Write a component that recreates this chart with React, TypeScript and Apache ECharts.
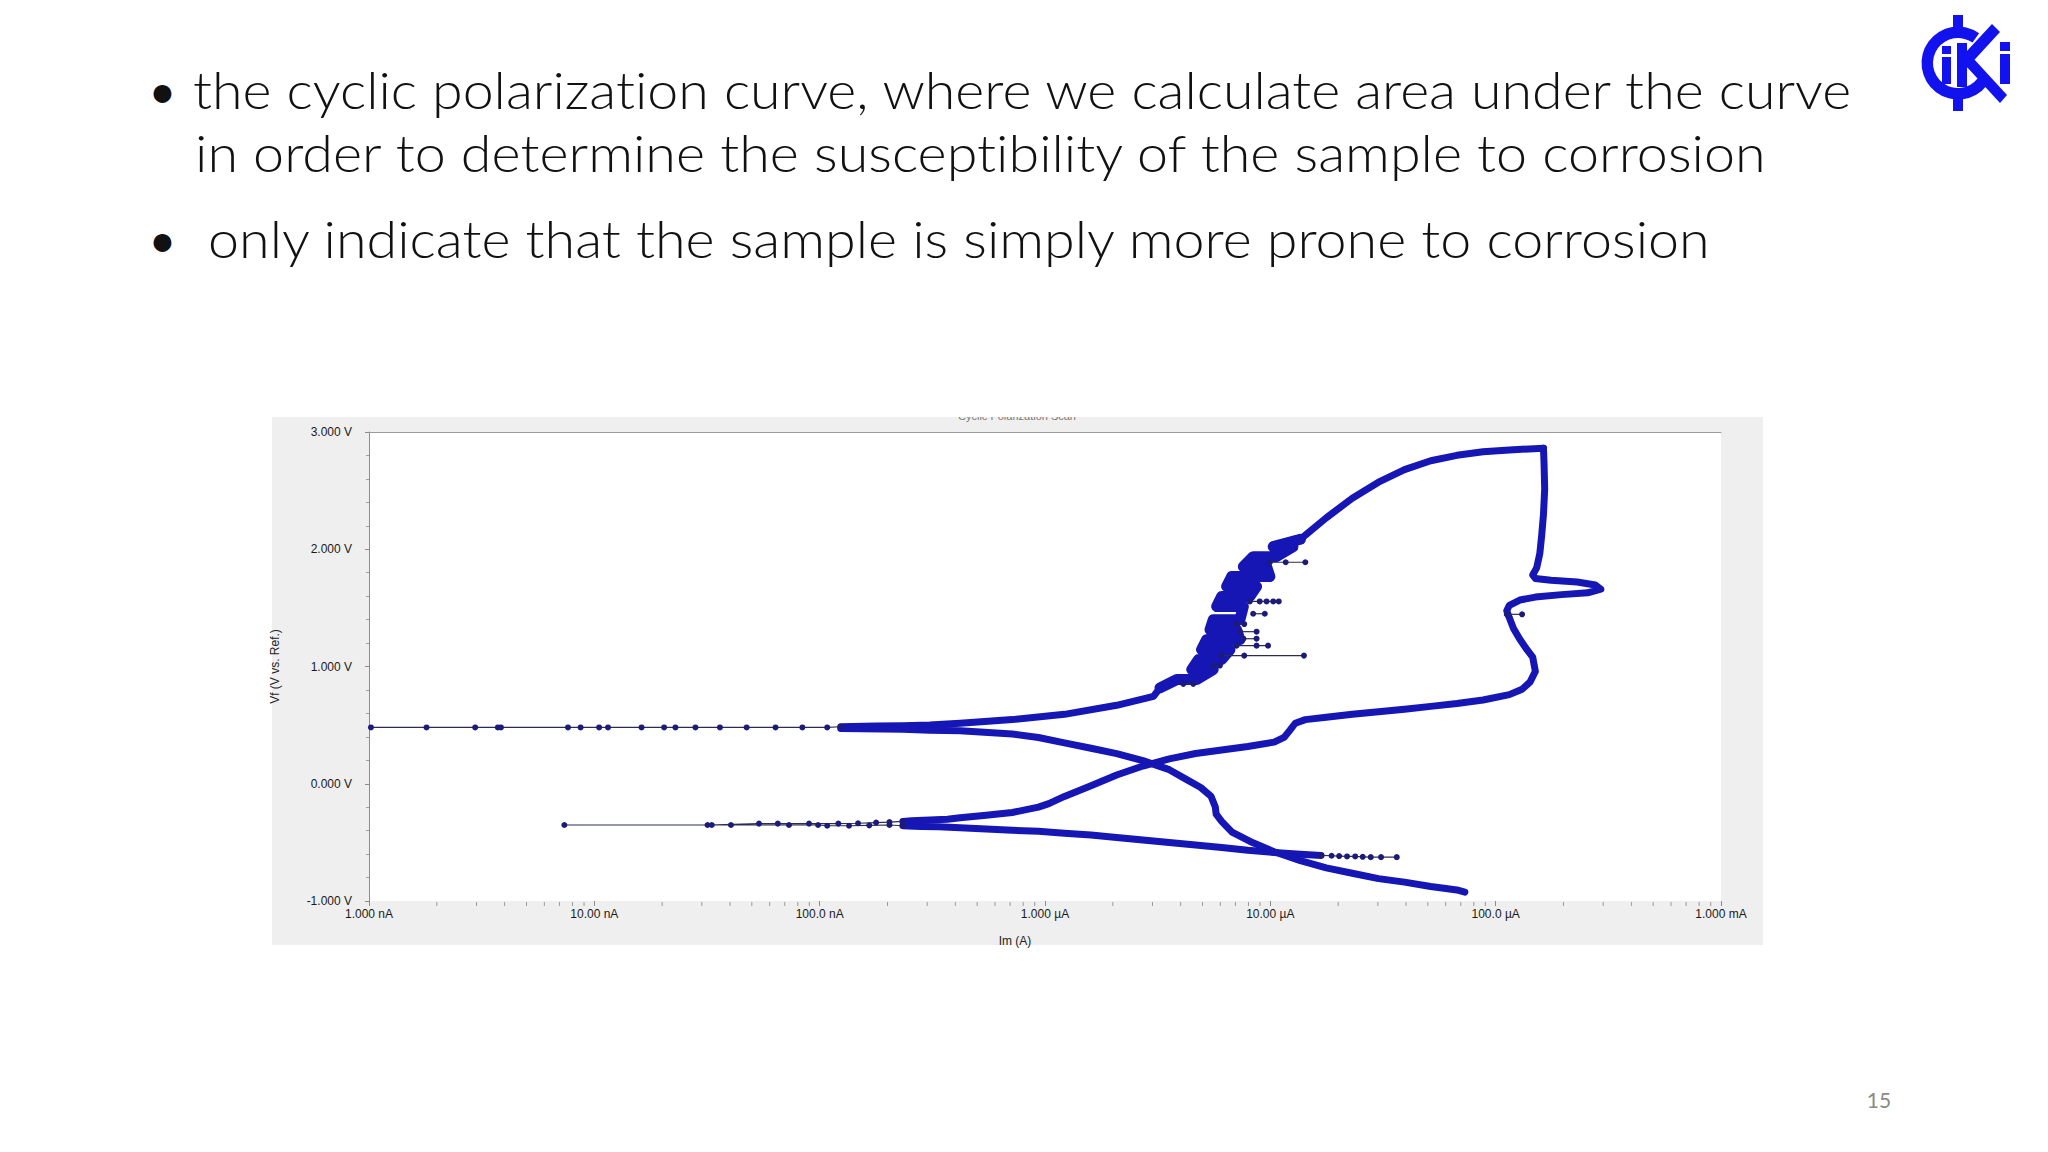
import React, { useEffect, useRef } from 'react';
import * as echarts from 'echarts';

// ---------- axis ticks / labels ----------
const xTickValues = [1e-9, 1e-8, 1e-7, 1e-6, 1e-5, 1e-4, 1e-3];
const xTickLabels = ['1.000 nA', '10.00 nA', '100.0 nA', '1.000 µA', '10.00 µA', '100.0 µA', '1.000 mA'];
const minorMultipliers = [2, 3, 4, 5, 6, 7, 8, 9];
const yMin = -1;
const yMax = 3;
const yStep = 1;

// ---------- slide text ----------
const bulletLines = [
  'the cyclic polarization curve, where we calculate area under the curve',
  'in order to determine the susceptibility of the sample to corrosion',
  'only indicate that the sample is simply more prone to corrosion',
];
const chartTitle = 'Cyclic Polarization Scan';
const xAxisName = 'Im (A)';
const yAxisName = 'Vf (V vs. Ref.)';
const pageNumber = '15';

// ---------- data: [current (A), potential (V)] ----------
// forward scan: start (sparse)
const fwdStartSparse: number[][] = [
  [3.64e-5, -0.626], [3.10e-5, -0.626], [2.79e-5, -0.626], [2.57e-5, -0.623], [2.38e-5, -0.62],
  [2.19e-5, -0.62], [2.02e-5, -0.617], [1.87e-5, -0.614], [1.68e-5, -0.611],
];
// forward scan: cathodic branch (dense)
const fwdCathodic: number[][] = [
  [1.68e-5, -0.611], [1.36e-5, -0.602], [1.04e-5, -0.586], [7.94e-6, -0.568], [6.08e-6, -0.543],
  [4.66e-6, -0.522], [3.56e-6, -0.501], [2.72e-6, -0.479], [2.08e-6, -0.458], [1.60e-6, -0.437],
  [1.22e-6, -0.422], [9.35e-7, -0.406], [7.16e-7, -0.397], [5.48e-7, -0.385], [4.20e-7, -0.375],
  [3.37e-7, -0.367], [2.81e-7, -0.364], [2.34e-7, -0.358],
];
// forward scan: around Ecorr (sparse)
const fwdCorrSparse: number[][] = [
  [2.34e-7, -0.358], [2.04e-7, -0.352], [1.66e-7, -0.355], [1.35e-7, -0.358], [1.08e-7, -0.358],
  [9.84e-8, -0.352], [7.31e-8, -0.352], [4.04e-8, -0.352], [3.32e-8, -0.352], [7.36e-9, -0.352],
  [3.18e-8, -0.352], [5.38e-8, -0.34], [6.52e-8, -0.34], [8.97e-8, -0.34], [1.21e-7, -0.34],
  [1.48e-7, -0.337], [1.78e-7, -0.331], [2.04e-7, -0.327], [2.34e-7, -0.321],
];
// forward scan: anodic branch up to the vertex (dense)
const fwdAnodic: number[][] = [
  [2.34e-7, -0.321], [2.56e-7, -0.315], [3.08e-7, -0.309], [3.69e-7, -0.303], [4.20e-7, -0.29],
  [5.48e-7, -0.269], [7.16e-7, -0.245], [9.35e-7, -0.199], [1.04e-6, -0.169], [1.22e-6, -0.108],
  [1.60e-6, -0.017], [2.08e-6, 0.075], [2.72e-6, 0.151], [3.56e-6, 0.212], [4.66e-6, 0.258],
  [6.08e-6, 0.288], [7.94e-6, 0.318], [1.04e-5, 0.355], [1.15e-5, 0.395], [1.22e-5, 0.455],
  [1.29e-5, 0.516], [1.43e-5, 0.547], [1.77e-5, 0.568], [2.31e-5, 0.592], [3.02e-5, 0.614],
  [3.94e-5, 0.635], [5.15e-5, 0.66], [6.73e-5, 0.684], [8.79e-5, 0.714], [1.15e-4, 0.76],
  [1.31e-4, 0.806], [1.42e-4, 0.867], [1.50e-4, 0.958], [1.46e-4, 1.08], [1.38e-4, 1.141],
  [1.28e-4, 1.232], [1.20e-4, 1.324], [1.15e-4, 1.415], [1.12e-4, 1.476], [1.15e-4, 1.522],
  [1.28e-4, 1.567], [1.50e-4, 1.592], [1.96e-4, 1.613], [2.56e-4, 1.628], [2.93e-4, 1.659],
  [2.77e-4, 1.695], [2.30e-4, 1.72], [1.76e-4, 1.735], [1.50e-4, 1.75], [1.46e-4, 1.781],
  [1.52e-4, 1.841], [1.57e-4, 1.963], [1.60e-4, 2.116], [1.63e-4, 2.298], [1.65e-4, 2.512],
  [1.64e-4, 2.725], [1.63e-4, 2.862],
];
// reverse scan: from the vertex (dense)
const revUpper: number[][] = [
  [1.63e-4, 2.862], [1.15e-4, 2.847], [8.79e-5, 2.831], [6.73e-5, 2.801], [5.15e-5, 2.755],
  [3.94e-5, 2.679], [3.02e-5, 2.572], [2.31e-5, 2.435], [1.77e-5, 2.268], [1.36e-5, 2.085],
];
// reverse scan: noisy region (dense)
const revCluster: number[][] = [
  [1.36e-5, 2.085], [1.03e-5, 2.022], [1.26e-5, 2.022], [1.06e-5, 1.937], [8.39e-6, 1.937],
  [7.59e-6, 1.852], [9.62e-6, 1.852], [9.95e-6, 1.767], [6.73e-6, 1.767], [6.40e-6, 1.682],
  [8.69e-6, 1.682], [8.11e-6, 1.597], [6.08e-6, 1.597], [5.78e-6, 1.512], [7.59e-6, 1.512],
  [7.33e-6, 1.399], [5.58e-6, 1.399], [5.40e-6, 1.314], [7.08e-6, 1.314], [7.33e-6, 1.229],
  [5.21e-6, 1.229], [4.95e-6, 1.144], [6.62e-6, 1.144], [6.08e-6, 1.059], [4.80e-6, 1.059],
  [4.48e-6, 0.974], [5.58e-6, 0.974], [4.71e-6, 0.889], [3.85e-6, 0.889], [3.24e-6, 0.818],
];
// reverse scan: down to Ecorr (dense)
const revLower: number[][] = [
  [3.24e-6, 0.818], [3.03e-6, 0.745], [2.08e-6, 0.669], [1.22e-6, 0.592], [7.16e-7, 0.547],
  [4.20e-7, 0.516], [3.08e-7, 0.501], [2.34e-7, 0.495], [1.78e-7, 0.492], [1.24e-7, 0.486],
];
// reverse scan: around Ecorr (sparse)
const revCorrSparse: number[][] = [
  [1.24e-7, 0.486], [1.08e-7, 0.48], [8.38e-8, 0.48], [6.37e-8, 0.48], [4.74e-8, 0.48],
  [3.61e-8, 0.48], [2.81e-8, 0.48], [2.29e-8, 0.48], [2.04e-8, 0.48], [1.62e-8, 0.48],
  [1.15e-8, 0.48], [1.05e-8, 0.48], [8.69e-9, 0.48], [7.64e-9, 0.48], [3.85e-9, 0.48],
  [3.73e-9, 0.48], [2.96e-9, 0.48], [1.80e-9, 0.48], [1.02e-9, 0.48],
];
// reverse scan: cathodic branch to the end (dense)
const revCathodic: number[][] = [
  [1.24e-7, 0.471], [2.34e-7, 0.465], [3.08e-7, 0.456], [4.20e-7, 0.452], [7.16e-7, 0.425],
  [9.35e-7, 0.394], [1.22e-6, 0.349], [1.60e-6, 0.303], [2.08e-6, 0.257], [2.72e-6, 0.197],
  [3.56e-6, 0.12], [4.18e-6, 0.044], [4.91e-6, -0.032], [5.46e-6, -0.108], [5.70e-6, -0.199],
  [5.75e-6, -0.26], [6.08e-6, -0.321], [6.76e-6, -0.413], [8.38e-6, -0.504], [1.04e-5, -0.58],
  [1.36e-5, -0.656], [1.77e-5, -0.717], [2.31e-5, -0.763], [3.02e-5, -0.809], [3.94e-5, -0.839],
  [5.15e-5, -0.876], [6.73e-5, -0.906], [7.30e-5, -0.924],
];
// current spikes (sparse)
const spikeA: number[][] = [[9.95e-6, 1.889], [1.17e-5, 1.889], [1.43e-5, 1.889]];
const spikeB: number[][] = [[8.11e-6, 1.555], [8.97e-6, 1.555], [9.62e-6, 1.555], [1.03e-5, 1.555], [1.09e-5, 1.555]];
const spikeC: number[][] = [[8.39e-6, 1.45], [9.45e-6, 1.45]];
const spikeD: number[][] = [[7.08e-6, 1.362], [7.66e-6, 1.362]];
const spikeE: number[][] = [[7.33e-6, 1.297], [8.69e-6, 1.297]];
const spikeF: number[][] = [[7.59e-6, 1.237], [8.69e-6, 1.237]];
const spikeG: number[][] = [[7.08e-6, 1.178], [8.69e-6, 1.178], [9.77e-6, 1.178]];
const spikeH: number[][] = [[6.08e-6, 1.093], [7.66e-6, 1.093], [1.41e-5, 1.093]];
const spikeI: number[][] = [[5.58e-6, 1.008], [5.97e-6, 1.008]];
const spikeJ: number[][] = [[4.11e-6, 0.852], [4.55e-6, 0.852]];
const spikeK: number[][] = [[1.12e-4, 1.445], [1.31e-4, 1.445]];

const BAND = '#1616b4';
const DOT = '#1c1c78';
const THIN = '#2c2c52';
const LOGO = '#1212ee';
const LABEL_FONT = 'Liberation Sans, Arial, sans-serif';
const SLIDE_FAMILY = 'Lato';

function xLabel(v: number): string {
  const i = Math.round(Math.log10(v) + 9);
  return xTickLabels[i] ?? '';
}

export default function App() {
  const ref = useRef<HTMLDivElement>(null);

  useEffect(() => {
    if (!ref.current) return;
    const chart = echarts.init(ref.current, null, { renderer: 'svg', width: 2048, height: 1152 });

    const ctx = document.createElement('canvas').getContext('2d')!;
    const slideFont = `300 52px ${SLIDE_FAMILY}`;
    const fit = (t: string, target: number) => {
      ctx.font = slideFont;
      const w = ctx.measureText(t).width;
      return w > 0 ? target / w : 1;
    };
    const lineLayout = [
      { x: 193, y: 89, w: 1663 },
      { x: 195, y: 152, w: 1575 },
      { x: 208, y: 238, w: 1505 },
    ];

    const minorX: number[][] = [];
    xTickValues.slice(0, -1).forEach((d) => minorMultipliers.forEach((m) => minorX.push([d * m, yMin])));

    const dense = (data: number[][], width = 7) => ({
      type: 'line', data, symbol: 'none', showSymbol: false, silent: true, z: 3,
      lineStyle: { width, color: BAND, cap: 'round', join: 'round' },
    });
    const sparse = (data: number[][]) => ({
      type: 'line', data, symbol: 'circle', symbolSize: 6, showSymbol: true, silent: true, z: 4,
      itemStyle: { color: DOT }, lineStyle: { width: 1.2, color: THIN },
    });

    const spikes = [spikeA, spikeB, spikeC, spikeD, spikeE, spikeF, spikeG, spikeH, spikeI, spikeJ, spikeK];

    const slideText: any[] = bulletLines.map((t, i) => ({
      type: 'text', x: lineLayout[i].x, y: lineLayout[i].y, scaleX: fit(t, lineLayout[i].w),
      style: { text: t, font: slideFont, fill: '#111111', textAlign: 'left', textVerticalAlign: 'middle' },
    }));
    [0, 2].forEach((i) => slideText.push({
      type: 'text', x: 162.5, y: lineLayout[i].y,
      style: { text: '•', font: `48px ${SLIDE_FAMILY}`, fill: '#111111', textAlign: 'center', textVerticalAlign: 'middle' },
    }));

    const logo = {
      type: 'group', children: [
        { type: 'sector', shape: { cx: 1958, cy: 63, r0: 25, r: 36.5, startAngle: 0.66, endAngle: 5.33, clockwise: true }, style: { fill: LOGO } },
        { type: 'rect', shape: { x: 1953, y: 15, width: 10, height: 13 }, style: { fill: LOGO } },
        { type: 'rect', shape: { x: 1953, y: 98, width: 10, height: 13 }, style: { fill: LOGO } },
        { type: 'rect', shape: { x: 1942, y: 46, width: 9, height: 8 }, style: { fill: LOGO } },
        { type: 'rect', shape: { x: 1942, y: 57, width: 9, height: 27 }, style: { fill: LOGO } },
        { type: 'rect', shape: { x: 1957, y: 43, width: 10, height: 44 }, style: { fill: LOGO } },
        { type: 'polygon', shape: { points: [[1966, 52], [1992, 24], [2000, 32], [1966, 69]] }, style: { fill: LOGO } },
        { type: 'polygon', shape: { points: [[1966, 66], [1973, 58], [2007, 95], [2000, 103]] }, style: { fill: LOGO } },
        { type: 'rect', shape: { x: 2000, y: 42, width: 10, height: 9 }, style: { fill: LOGO } },
        { type: 'rect', shape: { x: 2000, y: 54, width: 10, height: 30 }, style: { fill: LOGO } },
      ],
    };

    chart.setOption({
      animation: false,
      backgroundColor: '#ffffff',
      grid: { left: 369, top: 432, width: 1352, height: 469, show: true, backgroundColor: '#ffffff', borderWidth: 0, containLabel: false },
      xAxis: [
        {
          type: 'log', logBase: 10, min: xTickValues[0], max: xTickValues[xTickValues.length - 1], splitNumber: 6,
          axisLine: { show: false, onZero: false },
          axisTick: { show: true, length: 5, lineStyle: { color: '#8c8c8c' } },
          splitLine: { show: false },
          axisLabel: { formatter: xLabel, margin: 7, fontSize: 12, fontFamily: LABEL_FONT, color: '#1a1a1a', showMinLabel: true, showMaxLabel: true },
        },
        {
          type: 'log', logBase: 10, position: 'top', min: xTickValues[0], max: xTickValues[xTickValues.length - 1],
          axisLine: { show: true, onZero: false, lineStyle: { color: '#9a9a9a', width: 1 } },
          axisTick: { show: false }, axisLabel: { show: false }, splitLine: { show: false },
        },
      ],
      yAxis: {
        type: 'value', min: yMin, max: yMax, interval: yStep,
        axisLine: { show: true, onZero: false, lineStyle: { color: '#8c8c8c' } },
        axisTick: { show: true, length: 4, lineStyle: { color: '#8c8c8c' } },
        minorTick: { show: true, splitNumber: 5, length: 3, lineStyle: { color: '#a0a0a0' } },
        splitLine: { show: false },
        axisLabel: { formatter: (v: number) => v.toFixed(3) + ' V', margin: 17, fontSize: 12, fontFamily: LABEL_FONT, color: '#1a1a1a' },
        name: yAxisName, nameLocation: 'middle', nameGap: 88, nameRotate: 90,
        nameTextStyle: { fontSize: 12, fontFamily: LABEL_FONT, color: '#222222' },
      },
      series: [
        {
          type: 'custom', data: minorX, silent: true, z: 1, clip: false,
          renderItem: (_p: any, api: any) => {
            const pt = api.coord([api.value(0), api.value(1)]);
            return { type: 'line', shape: { x1: pt[0], y1: pt[1] + 1, x2: pt[0], y2: pt[1] + 5 }, style: { stroke: '#9a9a9a', lineWidth: 1 } };
          },
        },
        sparse(fwdStartSparse),
        dense(fwdCathodic),
        sparse(fwdCorrSparse),
        dense(fwdAnodic),
        dense(revUpper),
        dense(revCluster, 11),
        dense(revLower),
        sparse(revCorrSparse),
        dense(revCathodic),
        ...spikes.map(sparse),
      ],
      graphic: [
        { type: 'rect', z: -1, shape: { x: 272, y: 417, width: 1491, height: 528 }, style: { fill: '#efefef' } },
        { type: 'text', z: 5, x: 1017, y: 416, style: { text: chartTitle, font: `11px ${LABEL_FONT}`, fill: '#7a7a7a', textAlign: 'center', textVerticalAlign: 'middle' } },
        { type: 'rect', z: 6, shape: { x: 940, y: 400, width: 160, height: 17 }, style: { fill: '#ffffff' } },
        { type: 'text', z: 5, x: 1015, y: 941, style: { text: xAxisName, font: `12px ${LABEL_FONT}`, fill: '#222222', textAlign: 'center', textVerticalAlign: 'middle' } },
        { type: 'text', z: 5, x: 1879, y: 1099, style: { text: pageNumber, font: `21px ${SLIDE_FAMILY}`, fill: '#8a8a8a', textAlign: 'center', textVerticalAlign: 'middle' } },
        ...slideText,
        logo,
      ],
    });

    return () => chart.dispose();
  }, []);

  return (
    <>
      <style>{'svg text, svg tspan { font-variant-ligatures: none !important; font-feature-settings: "liga" 0, "clig" 0, "dlig" 0 !important; }'}</style>
      <div ref={ref} style={{ position: 'fixed', left: 0, top: 0, width: 2048, height: 1152, background: '#ffffff' }} />
    </>
  );
}
